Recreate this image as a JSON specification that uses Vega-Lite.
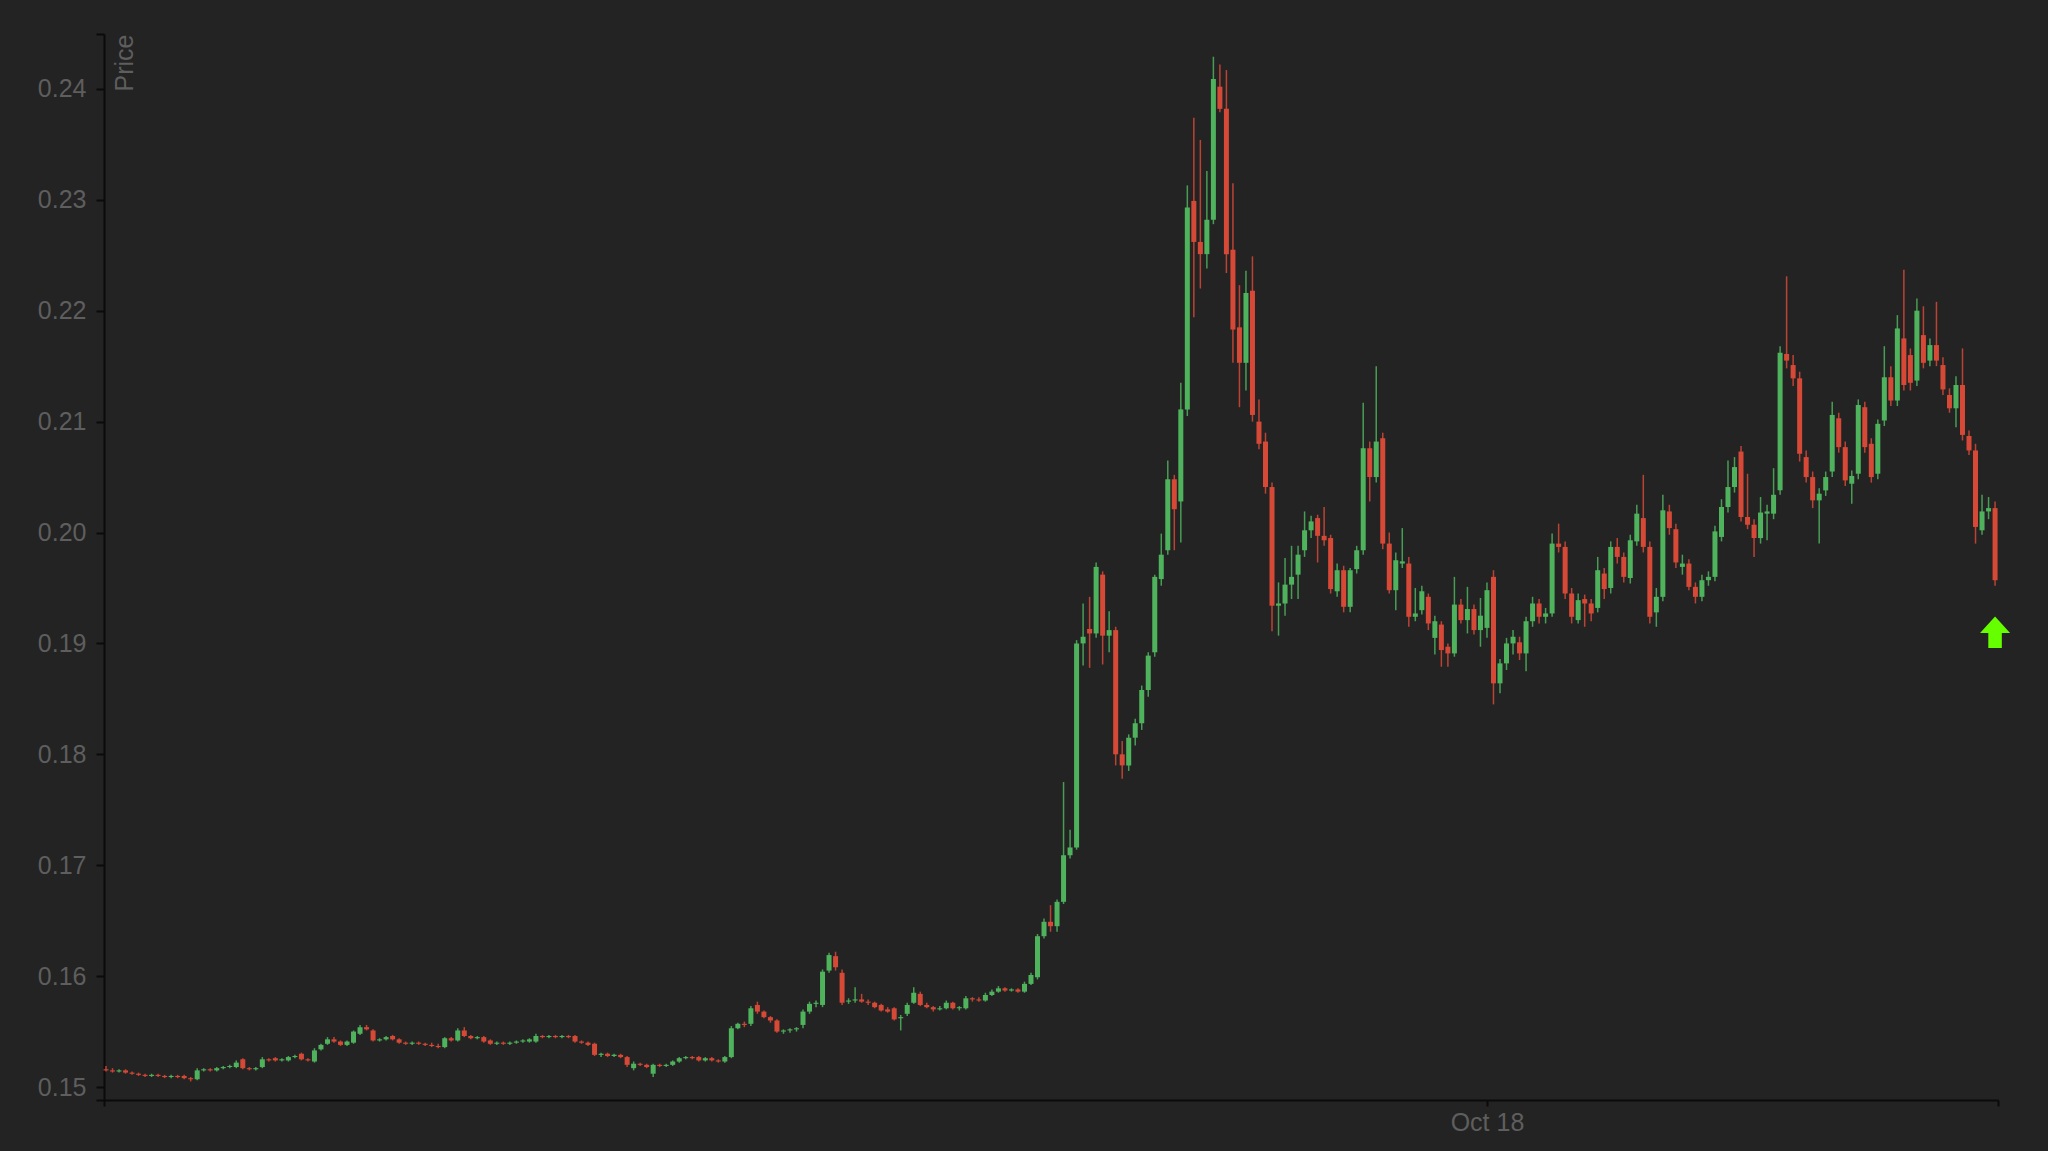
{
"$schema":"https://vega.github.io/schema/vega-lite/v6.json",
"width":1894,"height":1066,
"autosize":{"type":"none"},
"padding":{"left":104,"top":34,"right":50,"bottom":51},
"background":"#232323",
"config":{
 "view":{"stroke":null},
 "axis":{"grid":false,"domainColor":"#0b0b0b","domainWidth":2,"tickColor":"#0b0b0b","tickWidth":2,
  "labelColor":"#5e5e5e","labelFont":"Liberation Sans","labelFontSize":25,
  "titleColor":"#5e5e5e","titleFont":"Liberation Sans","titleFontSize":25,"titleFontWeight":"normal"}
},
"datasets":{
"candles":[
{"t":"2021-10-09T04:00","o":0.1516,"h":0.1519,"l":0.1514,"c":0.1515},
{"t":"2021-10-09T05:00","o":0.1515,"h":0.1517,"l":0.1513,"c":0.1514},
{"t":"2021-10-09T06:00","o":0.1514,"h":0.1516,"l":0.1513,"c":0.1515},
{"t":"2021-10-09T07:00","o":0.1515,"h":0.1516,"l":0.1512,"c":0.1513},
{"t":"2021-10-09T08:00","o":0.1513,"h":0.1514,"l":0.1511,"c":0.1512},
{"t":"2021-10-09T09:00","o":0.1512,"h":0.1513,"l":0.1510,"c":0.1511},
{"t":"2021-10-09T10:00","o":0.1511,"h":0.1512,"l":0.1509,"c":0.1510},
{"t":"2021-10-09T11:00","o":0.1510,"h":0.1512,"l":0.1509,"c":0.1511},
{"t":"2021-10-09T12:00","o":0.1511,"h":0.1512,"l":0.1509,"c":0.1510},
{"t":"2021-10-09T13:00","o":0.1510,"h":0.1511,"l":0.1508,"c":0.1509},
{"t":"2021-10-09T14:00","o":0.1509,"h":0.1511,"l":0.1508,"c":0.1510},
{"t":"2021-10-09T15:00","o":0.1510,"h":0.1511,"l":0.1508,"c":0.1509},
{"t":"2021-10-09T16:00","o":0.1510,"h":0.1511,"l":0.1507,"c":0.1508},
{"t":"2021-10-09T17:00","o":0.1508,"h":0.1509,"l":0.1505,"c":0.1507},
{"t":"2021-10-09T18:00","o":0.1507,"h":0.1517,"l":0.1506,"c":0.1515},
{"t":"2021-10-09T19:00","o":0.1515,"h":0.1517,"l":0.1514,"c":0.1516},
{"t":"2021-10-09T20:00","o":0.1516,"h":0.1517,"l":0.1514,"c":0.1515},
{"t":"2021-10-09T21:00","o":0.1515,"h":0.1518,"l":0.1514,"c":0.1517},
{"t":"2021-10-09T22:00","o":0.1517,"h":0.1519,"l":0.1516,"c":0.1518},
{"t":"2021-10-09T23:00","o":0.1518,"h":0.1520,"l":0.1517,"c":0.1519},
{"t":"2021-10-10T00:00","o":0.1518,"h":0.1524,"l":0.1517,"c":0.1522},
{"t":"2021-10-10T01:00","o":0.1525,"h":0.1526,"l":0.1516,"c":0.1517},
{"t":"2021-10-10T02:00","o":0.1517,"h":0.1518,"l":0.1515,"c":0.1516},
{"t":"2021-10-10T03:00","o":0.1516,"h":0.1518,"l":0.1515,"c":0.1517},
{"t":"2021-10-10T04:00","o":0.1518,"h":0.1527,"l":0.1517,"c":0.1525},
{"t":"2021-10-10T05:00","o":0.1525,"h":0.1526,"l":0.1523,"c":0.1524},
{"t":"2021-10-10T06:00","o":0.1526,"h":0.1527,"l":0.1523,"c":0.1524},
{"t":"2021-10-10T07:00","o":0.1524,"h":0.1526,"l":0.1523,"c":0.1525},
{"t":"2021-10-10T08:00","o":0.1524,"h":0.1528,"l":0.1523,"c":0.1527},
{"t":"2021-10-10T09:00","o":0.1527,"h":0.1529,"l":0.1526,"c":0.1528},
{"t":"2021-10-10T10:00","o":0.1530,"h":0.1531,"l":0.1524,"c":0.1525},
{"t":"2021-10-10T11:00","o":0.1525,"h":0.1526,"l":0.1523,"c":0.1524},
{"t":"2021-10-10T12:00","o":0.1523,"h":0.1535,"l":0.1522,"c":0.1533},
{"t":"2021-10-10T13:00","o":0.1534,"h":0.1539,"l":0.1533,"c":0.1538},
{"t":"2021-10-10T14:00","o":0.1539,"h":0.1545,"l":0.1538,"c":0.1543},
{"t":"2021-10-10T15:00","o":0.1543,"h":0.1545,"l":0.1540,"c":0.1541},
{"t":"2021-10-10T16:00","o":0.1541,"h":0.1542,"l":0.1537,"c":0.1538},
{"t":"2021-10-10T17:00","o":0.1538,"h":0.1542,"l":0.1537,"c":0.1541},
{"t":"2021-10-10T18:00","o":0.1540,"h":0.1551,"l":0.1539,"c":0.1550},
{"t":"2021-10-10T19:00","o":0.1548,"h":0.1556,"l":0.1547,"c":0.1554},
{"t":"2021-10-10T20:00","o":0.1554,"h":0.1556,"l":0.1551,"c":0.1552},
{"t":"2021-10-10T21:00","o":0.1551,"h":0.1552,"l":0.1541,"c":0.1542},
{"t":"2021-10-10T22:00","o":0.1542,"h":0.1544,"l":0.1541,"c":0.1543},
{"t":"2021-10-10T23:00","o":0.1543,"h":0.1546,"l":0.1542,"c":0.1545},
{"t":"2021-10-11T00:00","o":0.1546,"h":0.1547,"l":0.1542,"c":0.1543},
{"t":"2021-10-11T01:00","o":0.1543,"h":0.1544,"l":0.1539,"c":0.1540},
{"t":"2021-10-11T02:00","o":0.1540,"h":0.1541,"l":0.1538,"c":0.1539},
{"t":"2021-10-11T03:00","o":0.1539,"h":0.1541,"l":0.1538,"c":0.1540},
{"t":"2021-10-11T04:00","o":0.1540,"h":0.1541,"l":0.1538,"c":0.1539},
{"t":"2021-10-11T05:00","o":0.1539,"h":0.1540,"l":0.1537,"c":0.1538},
{"t":"2021-10-11T06:00","o":0.1538,"h":0.1540,"l":0.1536,"c":0.1537},
{"t":"2021-10-11T07:00","o":0.1537,"h":0.1539,"l":0.1535,"c":0.1536},
{"t":"2021-10-11T08:00","o":0.1536,"h":0.1545,"l":0.1535,"c":0.1544},
{"t":"2021-10-11T09:00","o":0.1544,"h":0.1545,"l":0.1541,"c":0.1542},
{"t":"2021-10-11T10:00","o":0.1542,"h":0.1553,"l":0.1541,"c":0.1551},
{"t":"2021-10-11T11:00","o":0.1551,"h":0.1554,"l":0.1545,"c":0.1546},
{"t":"2021-10-11T12:00","o":0.1546,"h":0.1547,"l":0.1543,"c":0.1544},
{"t":"2021-10-11T13:00","o":0.1544,"h":0.1546,"l":0.1543,"c":0.1545},
{"t":"2021-10-11T14:00","o":0.1545,"h":0.1546,"l":0.1540,"c":0.1541},
{"t":"2021-10-11T15:00","o":0.1542,"h":0.1543,"l":0.1538,"c":0.1539},
{"t":"2021-10-11T16:00","o":0.1539,"h":0.1541,"l":0.1538,"c":0.1540},
{"t":"2021-10-11T17:00","o":0.1540,"h":0.1541,"l":0.1538,"c":0.1539},
{"t":"2021-10-11T18:00","o":0.1539,"h":0.1541,"l":0.1538,"c":0.1540},
{"t":"2021-10-11T19:00","o":0.1540,"h":0.1542,"l":0.1539,"c":0.1541},
{"t":"2021-10-11T20:00","o":0.1541,"h":0.1543,"l":0.1540,"c":0.1542},
{"t":"2021-10-11T21:00","o":0.1541,"h":0.1544,"l":0.1540,"c":0.1543},
{"t":"2021-10-11T22:00","o":0.1541,"h":0.1548,"l":0.1540,"c":0.1546},
{"t":"2021-10-11T23:00","o":0.1546,"h":0.1547,"l":0.1544,"c":0.1545},
{"t":"2021-10-12T00:00","o":0.1545,"h":0.1547,"l":0.1544,"c":0.1546},
{"t":"2021-10-12T01:00","o":0.1546,"h":0.1547,"l":0.1544,"c":0.1545},
{"t":"2021-10-12T02:00","o":0.1545,"h":0.1547,"l":0.1544,"c":0.1546},
{"t":"2021-10-12T03:00","o":0.1546,"h":0.1547,"l":0.1544,"c":0.1545},
{"t":"2021-10-12T04:00","o":0.1546,"h":0.1547,"l":0.1540,"c":0.1541},
{"t":"2021-10-12T05:00","o":0.1541,"h":0.1542,"l":0.1539,"c":0.1540},
{"t":"2021-10-12T06:00","o":0.1540,"h":0.1541,"l":0.1537,"c":0.1538},
{"t":"2021-10-12T07:00","o":0.1539,"h":0.1540,"l":0.1528,"c":0.1529},
{"t":"2021-10-12T08:00","o":0.1529,"h":0.1531,"l":0.1527,"c":0.1530},
{"t":"2021-10-12T09:00","o":0.1530,"h":0.1531,"l":0.1527,"c":0.1528},
{"t":"2021-10-12T10:00","o":0.1528,"h":0.1530,"l":0.1527,"c":0.1529},
{"t":"2021-10-12T11:00","o":0.1529,"h":0.1530,"l":0.1526,"c":0.1527},
{"t":"2021-10-12T12:00","o":0.1527,"h":0.1528,"l":0.1518,"c":0.1520},
{"t":"2021-10-12T13:00","o":0.1517,"h":0.1523,"l":0.1515,"c":0.1521},
{"t":"2021-10-12T14:00","o":0.1521,"h":0.1522,"l":0.1519,"c":0.1520},
{"t":"2021-10-12T15:00","o":0.1520,"h":0.1521,"l":0.1517,"c":0.1518},
{"t":"2021-10-12T16:00","o":0.1512,"h":0.1521,"l":0.1509,"c":0.1520},
{"t":"2021-10-12T17:00","o":0.1520,"h":0.1521,"l":0.1518,"c":0.1519},
{"t":"2021-10-12T18:00","o":0.1519,"h":0.1521,"l":0.1518,"c":0.1520},
{"t":"2021-10-12T19:00","o":0.1520,"h":0.1524,"l":0.1519,"c":0.1523},
{"t":"2021-10-12T20:00","o":0.1523,"h":0.1527,"l":0.1522,"c":0.1526},
{"t":"2021-10-12T21:00","o":0.1526,"h":0.1528,"l":0.1525,"c":0.1527},
{"t":"2021-10-12T22:00","o":0.1527,"h":0.1528,"l":0.1525,"c":0.1526},
{"t":"2021-10-12T23:00","o":0.1527,"h":0.1528,"l":0.1523,"c":0.1524},
{"t":"2021-10-13T00:00","o":0.1524,"h":0.1527,"l":0.1523,"c":0.1526},
{"t":"2021-10-13T01:00","o":0.1526,"h":0.1527,"l":0.1523,"c":0.1524},
{"t":"2021-10-13T02:00","o":0.1524,"h":0.1525,"l":0.1522,"c":0.1523},
{"t":"2021-10-13T03:00","o":0.1523,"h":0.1528,"l":0.1522,"c":0.1527},
{"t":"2021-10-13T04:00","o":0.1527,"h":0.1555,"l":0.1526,"c":0.1553},
{"t":"2021-10-13T05:00","o":0.1553,"h":0.1558,"l":0.1552,"c":0.1557},
{"t":"2021-10-13T06:00","o":0.1557,"h":0.1559,"l":0.1554,"c":0.1556},
{"t":"2021-10-13T07:00","o":0.1557,"h":0.1573,"l":0.1555,"c":0.1571},
{"t":"2021-10-13T08:00","o":0.1574,"h":0.1577,"l":0.1566,"c":0.1568},
{"t":"2021-10-13T09:00","o":0.1568,"h":0.1569,"l":0.1562,"c":0.1563},
{"t":"2021-10-13T10:00","o":0.1563,"h":0.1564,"l":0.1558,"c":0.1560},
{"t":"2021-10-13T11:00","o":0.1560,"h":0.1561,"l":0.1549,"c":0.1550},
{"t":"2021-10-13T12:00","o":0.1550,"h":0.1552,"l":0.1548,"c":0.1551},
{"t":"2021-10-13T13:00","o":0.1551,"h":0.1553,"l":0.1549,"c":0.1552},
{"t":"2021-10-13T14:00","o":0.1552,"h":0.1554,"l":0.1550,"c":0.1553},
{"t":"2021-10-13T15:00","o":0.1556,"h":0.1570,"l":0.1553,"c":0.1568},
{"t":"2021-10-13T16:00","o":0.1568,"h":0.1577,"l":0.1566,"c":0.1575},
{"t":"2021-10-13T17:00","o":0.1575,"h":0.1578,"l":0.1572,"c":0.1576},
{"t":"2021-10-13T18:00","o":0.1574,"h":0.1606,"l":0.1572,"c":0.1604},
{"t":"2021-10-13T19:00","o":0.1605,"h":0.1621,"l":0.1603,"c":0.1619},
{"t":"2021-10-13T20:00","o":0.1618,"h":0.1622,"l":0.1605,"c":0.1608},
{"t":"2021-10-13T21:00","o":0.1603,"h":0.1606,"l":0.1574,"c":0.1576},
{"t":"2021-10-13T22:00","o":0.1577,"h":0.1580,"l":0.1575,"c":0.1578},
{"t":"2021-10-13T23:00","o":0.1578,"h":0.1590,"l":0.1576,"c":0.1579},
{"t":"2021-10-14T00:00","o":0.1579,"h":0.1584,"l":0.1576,"c":0.1577},
{"t":"2021-10-14T01:00","o":0.1577,"h":0.1579,"l":0.1574,"c":0.1576},
{"t":"2021-10-14T02:00","o":0.1576,"h":0.1577,"l":0.1571,"c":0.1572},
{"t":"2021-10-14T03:00","o":0.1574,"h":0.1575,"l":0.1568,"c":0.1569},
{"t":"2021-10-14T04:00","o":0.1570,"h":0.1572,"l":0.1567,"c":0.1568},
{"t":"2021-10-14T05:00","o":0.1571,"h":0.1572,"l":0.1560,"c":0.1561},
{"t":"2021-10-14T06:00","o":0.1562,"h":0.1565,"l":0.1551,"c":0.1563},
{"t":"2021-10-14T07:00","o":0.1566,"h":0.1576,"l":0.1564,"c":0.1574},
{"t":"2021-10-14T08:00","o":0.1576,"h":0.1590,"l":0.1575,"c":0.1585},
{"t":"2021-10-14T09:00","o":0.1584,"h":0.1586,"l":0.1573,"c":0.1574},
{"t":"2021-10-14T10:00","o":0.1574,"h":0.1576,"l":0.1571,"c":0.1572},
{"t":"2021-10-14T11:00","o":0.1572,"h":0.1573,"l":0.1568,"c":0.1570},
{"t":"2021-10-14T12:00","o":0.1570,"h":0.1573,"l":0.1569,"c":0.1571},
{"t":"2021-10-14T13:00","o":0.1571,"h":0.1578,"l":0.1570,"c":0.1576},
{"t":"2021-10-14T14:00","o":0.1576,"h":0.1577,"l":0.1570,"c":0.1571},
{"t":"2021-10-14T15:00","o":0.1571,"h":0.1573,"l":0.1569,"c":0.1572},
{"t":"2021-10-14T16:00","o":0.1571,"h":0.1582,"l":0.1570,"c":0.1580},
{"t":"2021-10-14T17:00","o":0.1580,"h":0.1581,"l":0.1577,"c":0.1579},
{"t":"2021-10-14T18:00","o":0.1579,"h":0.1581,"l":0.1577,"c":0.1578},
{"t":"2021-10-14T19:00","o":0.1578,"h":0.1585,"l":0.1577,"c":0.1583},
{"t":"2021-10-14T20:00","o":0.1583,"h":0.1588,"l":0.1582,"c":0.1586},
{"t":"2021-10-14T21:00","o":0.1586,"h":0.1591,"l":0.1585,"c":0.1589},
{"t":"2021-10-14T22:00","o":0.1589,"h":0.1590,"l":0.1586,"c":0.1587},
{"t":"2021-10-14T23:00","o":0.1587,"h":0.1589,"l":0.1586,"c":0.1588},
{"t":"2021-10-15T00:00","o":0.1588,"h":0.1589,"l":0.1585,"c":0.1586},
{"t":"2021-10-15T01:00","o":0.1586,"h":0.1595,"l":0.1585,"c":0.1593},
{"t":"2021-10-15T02:00","o":0.1593,"h":0.1603,"l":0.1592,"c":0.1601},
{"t":"2021-10-15T03:00","o":0.1599,"h":0.1638,"l":0.1597,"c":0.1636},
{"t":"2021-10-15T04:00","o":0.1636,"h":0.1652,"l":0.1634,"c":0.1649},
{"t":"2021-10-15T05:00","o":0.1649,"h":0.1664,"l":0.1640,"c":0.1645},
{"t":"2021-10-15T06:00","o":0.1645,"h":0.1669,"l":0.1640,"c":0.1667},
{"t":"2021-10-15T07:00","o":0.1667,"h":0.1775,"l":0.1665,"c":0.1709},
{"t":"2021-10-15T08:00","o":0.1709,"h":0.1732,"l":0.1706,"c":0.1716},
{"t":"2021-10-15T09:00","o":0.1716,"h":0.1903,"l":0.1714,"c":0.1900},
{"t":"2021-10-15T10:00","o":0.1900,"h":0.1936,"l":0.1880,"c":0.1906},
{"t":"2021-10-15T11:00","o":0.1913,"h":0.1942,"l":0.1878,"c":0.1909},
{"t":"2021-10-15T12:00","o":0.1909,"h":0.1973,"l":0.1905,"c":0.1969},
{"t":"2021-10-15T13:00","o":0.1962,"h":0.1965,"l":0.1881,"c":0.1907},
{"t":"2021-10-15T14:00","o":0.1907,"h":0.1929,"l":0.1892,"c":0.1912},
{"t":"2021-10-15T15:00","o":0.1912,"h":0.1915,"l":0.1790,"c":0.1800},
{"t":"2021-10-15T16:00","o":0.1800,"h":0.1812,"l":0.1778,"c":0.1790},
{"t":"2021-10-15T17:00","o":0.1790,"h":0.1818,"l":0.1785,"c":0.1815},
{"t":"2021-10-15T18:00","o":0.1815,"h":0.1832,"l":0.1808,"c":0.1828},
{"t":"2021-10-15T19:00","o":0.1828,"h":0.1862,"l":0.1822,"c":0.1858},
{"t":"2021-10-15T20:00","o":0.1858,"h":0.1892,"l":0.1852,"c":0.1889},
{"t":"2021-10-15T21:00","o":0.1892,"h":0.1962,"l":0.1888,"c":0.1960},
{"t":"2021-10-15T22:00","o":0.1958,"h":0.1999,"l":0.1952,"c":0.1980},
{"t":"2021-10-15T23:00","o":0.1984,"h":0.2065,"l":0.1980,"c":0.2048},
{"t":"2021-10-16T00:00","o":0.2048,"h":0.2052,"l":0.1984,"c":0.2021},
{"t":"2021-10-16T01:00","o":0.2028,"h":0.2135,"l":0.1991,"c":0.2111},
{"t":"2021-10-16T02:00","o":0.2111,"h":0.2313,"l":0.2105,"c":0.2293},
{"t":"2021-10-16T03:00","o":0.2299,"h":0.2374,"l":0.2194,"c":0.2262},
{"t":"2021-10-16T04:00","o":0.2262,"h":0.2354,"l":0.2220,"c":0.2251},
{"t":"2021-10-16T05:00","o":0.2251,"h":0.2326,"l":0.2238,"c":0.2282},
{"t":"2021-10-16T06:00","o":0.2282,"h":0.2429,"l":0.2278,"c":0.2409},
{"t":"2021-10-16T07:00","o":0.2402,"h":0.2422,"l":0.2379,"c":0.2382},
{"t":"2021-10-16T08:00","o":0.2382,"h":0.2417,"l":0.2234,"c":0.2251},
{"t":"2021-10-16T09:00","o":0.2255,"h":0.2315,"l":0.2153,"c":0.2183},
{"t":"2021-10-16T10:00","o":0.2185,"h":0.2223,"l":0.2113,"c":0.2153},
{"t":"2021-10-16T11:00","o":0.2153,"h":0.2236,"l":0.2128,"c":0.2216},
{"t":"2021-10-16T12:00","o":0.2218,"h":0.2249,"l":0.2100,"c":0.2106},
{"t":"2021-10-16T13:00","o":0.2100,"h":0.2120,"l":0.2075,"c":0.2080},
{"t":"2021-10-16T14:00","o":0.2082,"h":0.2090,"l":0.2035,"c":0.2041},
{"t":"2021-10-16T15:00","o":0.2041,"h":0.2045,"l":0.1911,"c":0.1934},
{"t":"2021-10-16T16:00","o":0.1934,"h":0.1955,"l":0.1907,"c":0.1936},
{"t":"2021-10-16T17:00","o":0.1936,"h":0.1977,"l":0.1925,"c":0.1953},
{"t":"2021-10-16T18:00","o":0.1953,"h":0.1988,"l":0.1940,"c":0.1960},
{"t":"2021-10-16T19:00","o":0.1962,"h":0.1988,"l":0.1940,"c":0.1980},
{"t":"2021-10-16T20:00","o":0.1984,"h":0.2019,"l":0.1978,"c":0.2002},
{"t":"2021-10-16T21:00","o":0.2002,"h":0.2015,"l":0.1995,"c":0.2010},
{"t":"2021-10-16T22:00","o":0.2013,"h":0.2016,"l":0.1973,"c":0.1997},
{"t":"2021-10-16T23:00","o":0.1997,"h":0.2023,"l":0.1988,"c":0.1993},
{"t":"2021-10-17T00:00","o":0.1995,"h":0.1998,"l":0.1945,"c":0.1949},
{"t":"2021-10-17T01:00","o":0.1947,"h":0.1972,"l":0.1942,"c":0.1966},
{"t":"2021-10-17T02:00","o":0.1966,"h":0.1970,"l":0.1928,"c":0.1933},
{"t":"2021-10-17T03:00","o":0.1933,"h":0.1968,"l":0.1928,"c":0.1966},
{"t":"2021-10-17T04:00","o":0.1967,"h":0.1988,"l":0.1963,"c":0.1984},
{"t":"2021-10-17T05:00","o":0.1984,"h":0.2117,"l":0.1980,"c":0.2076},
{"t":"2021-10-17T06:00","o":0.2076,"h":0.2082,"l":0.2028,"c":0.2050},
{"t":"2021-10-17T07:00","o":0.2050,"h":0.2150,"l":0.2045,"c":0.2082},
{"t":"2021-10-17T08:00","o":0.2085,"h":0.2090,"l":0.1985,"c":0.1990},
{"t":"2021-10-17T09:00","o":0.1990,"h":0.2000,"l":0.1945,"c":0.1948},
{"t":"2021-10-17T10:00","o":0.1948,"h":0.1982,"l":0.1930,"c":0.1975},
{"t":"2021-10-17T11:00","o":0.1972,"h":0.2004,"l":0.1968,"c":0.1974},
{"t":"2021-10-17T12:00","o":0.1972,"h":0.1978,"l":0.1915,"c":0.1924},
{"t":"2021-10-17T13:00","o":0.1924,"h":0.1950,"l":0.1920,"c":0.1927},
{"t":"2021-10-17T14:00","o":0.1930,"h":0.1952,"l":0.1926,"c":0.1947},
{"t":"2021-10-17T15:00","o":0.1942,"h":0.1945,"l":0.1912,"c":0.1918},
{"t":"2021-10-17T16:00","o":0.1905,"h":0.1925,"l":0.1890,"c":0.1920},
{"t":"2021-10-17T17:00","o":0.1917,"h":0.1920,"l":0.1879,"c":0.1894},
{"t":"2021-10-17T18:00","o":0.1897,"h":0.1900,"l":0.1879,"c":0.1891},
{"t":"2021-10-17T19:00","o":0.1891,"h":0.1960,"l":0.1888,"c":0.1935},
{"t":"2021-10-17T20:00","o":0.1935,"h":0.1940,"l":0.1918,"c":0.1921},
{"t":"2021-10-17T21:00","o":0.1921,"h":0.1951,"l":0.1909,"c":0.1931},
{"t":"2021-10-17T22:00","o":0.1931,"h":0.1935,"l":0.1908,"c":0.1912},
{"t":"2021-10-17T23:00","o":0.1912,"h":0.1941,"l":0.1897,"c":0.1925},
{"t":"2021-10-18T00:00","o":0.1914,"h":0.1955,"l":0.1905,"c":0.1948},
{"t":"2021-10-18T01:00","o":0.1960,"h":0.1966,"l":0.1845,"c":0.1864},
{"t":"2021-10-18T02:00","o":0.1864,"h":0.1886,"l":0.1855,"c":0.1882},
{"t":"2021-10-18T03:00","o":0.1882,"h":0.1905,"l":0.1876,"c":0.1900},
{"t":"2021-10-18T04:00","o":0.1900,"h":0.1912,"l":0.1890,"c":0.1906},
{"t":"2021-10-18T05:00","o":0.1901,"h":0.1906,"l":0.1885,"c":0.1891},
{"t":"2021-10-18T06:00","o":0.1891,"h":0.1924,"l":0.1875,"c":0.1920},
{"t":"2021-10-18T07:00","o":0.1920,"h":0.1942,"l":0.1915,"c":0.1936},
{"t":"2021-10-18T08:00","o":0.1936,"h":0.1940,"l":0.1918,"c":0.1924},
{"t":"2021-10-18T09:00","o":0.1924,"h":0.1932,"l":0.1918,"c":0.1927},
{"t":"2021-10-18T10:00","o":0.1927,"h":0.1999,"l":0.1924,"c":0.1990},
{"t":"2021-10-18T11:00","o":0.1990,"h":0.2008,"l":0.1982,"c":0.1987},
{"t":"2021-10-18T12:00","o":0.1987,"h":0.1992,"l":0.1940,"c":0.1945},
{"t":"2021-10-18T13:00","o":0.1945,"h":0.1950,"l":0.1918,"c":0.1924},
{"t":"2021-10-18T14:00","o":0.1921,"h":0.1945,"l":0.1918,"c":0.1939},
{"t":"2021-10-18T15:00","o":0.1940,"h":0.1944,"l":0.1915,"c":0.1936},
{"t":"2021-10-18T16:00","o":0.1936,"h":0.1940,"l":0.1920,"c":0.1927},
{"t":"2021-10-18T17:00","o":0.1932,"h":0.1978,"l":0.1928,"c":0.1966},
{"t":"2021-10-18T18:00","o":0.1963,"h":0.1968,"l":0.1940,"c":0.1949},
{"t":"2021-10-18T19:00","o":0.1950,"h":0.1992,"l":0.1945,"c":0.1987},
{"t":"2021-10-18T20:00","o":0.1987,"h":0.1995,"l":0.1972,"c":0.1978},
{"t":"2021-10-18T21:00","o":0.1978,"h":0.1982,"l":0.1955,"c":0.1960},
{"t":"2021-10-18T22:00","o":0.1959,"h":0.1998,"l":0.1954,"c":0.1993},
{"t":"2021-10-18T23:00","o":0.1992,"h":0.2025,"l":0.1988,"c":0.2017},
{"t":"2021-10-19T00:00","o":0.2013,"h":0.2052,"l":0.1982,"c":0.1987},
{"t":"2021-10-19T01:00","o":0.1987,"h":0.1992,"l":0.1918,"c":0.1924},
{"t":"2021-10-19T02:00","o":0.1928,"h":0.1950,"l":0.1915,"c":0.1942},
{"t":"2021-10-19T03:00","o":0.1942,"h":0.2034,"l":0.1938,"c":0.2020},
{"t":"2021-10-19T04:00","o":0.2019,"h":0.2025,"l":0.1998,"c":0.2004},
{"t":"2021-10-19T05:00","o":0.2003,"h":0.2008,"l":0.1968,"c":0.1973},
{"t":"2021-10-19T06:00","o":0.1969,"h":0.1980,"l":0.1962,"c":0.1972},
{"t":"2021-10-19T07:00","o":0.1972,"h":0.1976,"l":0.1948,"c":0.1951},
{"t":"2021-10-19T08:00","o":0.1951,"h":0.1955,"l":0.1936,"c":0.1942},
{"t":"2021-10-19T09:00","o":0.1942,"h":0.1962,"l":0.1938,"c":0.1957},
{"t":"2021-10-19T10:00","o":0.1957,"h":0.1965,"l":0.1952,"c":0.1960},
{"t":"2021-10-19T11:00","o":0.1960,"h":0.2006,"l":0.1956,"c":0.2001},
{"t":"2021-10-19T12:00","o":0.1996,"h":0.2030,"l":0.1992,"c":0.2023},
{"t":"2021-10-19T13:00","o":0.2023,"h":0.2065,"l":0.2018,"c":0.2041},
{"t":"2021-10-19T14:00","o":0.2041,"h":0.2068,"l":0.2036,"c":0.2059},
{"t":"2021-10-19T15:00","o":0.2073,"h":0.2078,"l":0.2010,"c":0.2014},
{"t":"2021-10-19T16:00","o":0.2014,"h":0.2053,"l":0.2003,"c":0.2007},
{"t":"2021-10-19T17:00","o":0.2007,"h":0.2012,"l":0.1978,"c":0.1995},
{"t":"2021-10-19T18:00","o":0.1995,"h":0.2032,"l":0.1990,"c":0.2018},
{"t":"2021-10-19T19:00","o":0.2017,"h":0.2025,"l":0.1993,"c":0.2019},
{"t":"2021-10-19T20:00","o":0.2017,"h":0.2058,"l":0.2012,"c":0.2034},
{"t":"2021-10-19T21:00","o":0.2038,"h":0.2168,"l":0.2034,"c":0.2162},
{"t":"2021-10-19T22:00","o":0.2161,"h":0.2231,"l":0.2148,"c":0.2155},
{"t":"2021-10-19T23:00","o":0.2151,"h":0.2160,"l":0.2132,"c":0.2139},
{"t":"2021-10-20T00:00","o":0.2139,"h":0.2145,"l":0.2064,"c":0.2071},
{"t":"2021-10-20T01:00","o":0.2068,"h":0.2074,"l":0.2045,"c":0.2050},
{"t":"2021-10-20T02:00","o":0.2050,"h":0.2055,"l":0.2022,"c":0.2029},
{"t":"2021-10-20T03:00","o":0.2029,"h":0.2040,"l":0.1990,"c":0.2035},
{"t":"2021-10-20T04:00","o":0.2038,"h":0.2055,"l":0.2033,"c":0.2050},
{"t":"2021-10-20T05:00","o":0.2055,"h":0.2118,"l":0.2050,"c":0.2106},
{"t":"2021-10-20T06:00","o":0.2103,"h":0.2108,"l":0.2072,"c":0.2077},
{"t":"2021-10-20T07:00","o":0.2077,"h":0.2082,"l":0.2042,"c":0.2047},
{"t":"2021-10-20T08:00","o":0.2044,"h":0.2056,"l":0.2026,"c":0.2051},
{"t":"2021-10-20T09:00","o":0.2053,"h":0.2120,"l":0.2048,"c":0.2115},
{"t":"2021-10-20T10:00","o":0.2113,"h":0.2118,"l":0.2072,"c":0.2077},
{"t":"2021-10-20T11:00","o":0.2080,"h":0.2085,"l":0.2045,"c":0.2050},
{"t":"2021-10-20T12:00","o":0.2053,"h":0.2102,"l":0.2048,"c":0.2098},
{"t":"2021-10-20T13:00","o":0.2101,"h":0.2168,"l":0.2096,"c":0.2140},
{"t":"2021-10-20T14:00","o":0.2140,"h":0.2150,"l":0.2114,"c":0.2119},
{"t":"2021-10-20T15:00","o":0.2119,"h":0.2196,"l":0.2114,"c":0.2184},
{"t":"2021-10-20T16:00","o":0.2175,"h":0.2237,"l":0.2128,"c":0.2133},
{"t":"2021-10-20T17:00","o":0.2160,"h":0.2166,"l":0.2128,"c":0.2135},
{"t":"2021-10-20T18:00","o":0.2137,"h":0.2211,"l":0.2132,"c":0.2200},
{"t":"2021-10-20T19:00","o":0.2178,"h":0.2204,"l":0.2148,"c":0.2153},
{"t":"2021-10-20T20:00","o":0.2155,"h":0.2175,"l":0.2150,"c":0.2169},
{"t":"2021-10-20T21:00","o":0.2169,"h":0.2208,"l":0.2150,"c":0.2155},
{"t":"2021-10-20T22:00","o":0.2151,"h":0.2158,"l":0.2124,"c":0.2129},
{"t":"2021-10-20T23:00","o":0.2124,"h":0.2130,"l":0.2108,"c":0.2112},
{"t":"2021-10-21T00:00","o":0.2112,"h":0.2141,"l":0.2095,"c":0.2133},
{"t":"2021-10-21T01:00","o":0.2133,"h":0.2166,"l":0.2083,"c":0.2088},
{"t":"2021-10-21T02:00","o":0.2087,"h":0.2092,"l":0.2070,"c":0.2074},
{"t":"2021-10-21T03:00","o":0.2074,"h":0.2080,"l":0.1990,"c":0.2005},
{"t":"2021-10-21T04:00","o":0.2002,"h":0.2034,"l":0.1998,"c":0.2019},
{"t":"2021-10-21T05:00","o":0.2019,"h":0.2032,"l":0.2012,"c":0.2022},
{"t":"2021-10-21T06:00","o":0.2022,"h":0.2028,"l":0.1952,"c":0.1957}
],
"trade":[{"t":"2021-10-21T06:00","p":0.191}]
},
"layer":[
 {"data":{"name":"candles"},
  "mark":{"type":"rule","strokeWidth":1.5,"opacity":0.85},
  "encoding":{
   "x":{"field":"t","type":"temporal",
     "scale":{"padding":0,"domain":[{"year":2021,"month":10,"date":9,"hours":3,"minutes":41,"seconds":36},{"year":2021,"month":10,"date":21,"hours":6,"minutes":27}]},
     "axis":{"values":[{"year":2021,"month":10,"date":9,"hours":3,"minutes":41,"seconds":36},{"year":2021,"month":10,"date":18},{"year":2021,"month":10,"date":21,"hours":6,"minutes":27}],
       "format":"%b %d","labelExpr":"date(datum.value) == 18 ? datum.label : ''","title":null,"tickSize":6,"labelPadding":4,"labelFlush":false}},
   "y":{"field":"l","type":"quantitative",
     "scale":{"domain":[0.14883,0.24495],"zero":false,"nice":false},
     "axis":{"values":[0.14883,0.15,0.16,0.17,0.18,0.19,0.2,0.21,0.22,0.23,0.24,0.24495],"format":".2f",
       "labelExpr":"datum.value < 0.1495 || datum.value > 0.2445 ? '' : datum.label","tickSize":8,"labelPadding":10,
       "title":"Price","titleAngle":270,"titleAlign":"right","titleBaseline":"top","titleX":8,"titleY":0}},
   "y2":{"field":"h"},
   "color":{"condition":{"test":"datum.c >= datum.o","value":"#4fb35d"},"value":"#d64937"}
  }},
 {"data":{"name":"candles"},
  "mark":{"type":"bar","size":5,"opacity":1},
  "encoding":{
   "x":{"field":"t","type":"temporal"},
   "y":{"field":"o","type":"quantitative"},
   "y2":{"field":"c"},
   "color":{"condition":{"test":"datum.c >= datum.o","value":"#4fb35d"},"value":"#d64937"}
  }},
 {"data":{"name":"trade"},
  "mark":{"type":"point","filled":true,"opacity":1,"size":900,"color":"#66ff00",
    "shape":"M0,-1.05L1,0.05L0.45,0.05L0.45,1.05L-0.45,1.05L-0.45,0.05L-1,0.05Z"},
  "encoding":{
   "x":{"field":"t","type":"temporal"},
   "y":{"field":"p","type":"quantitative"}
  }}
]
}
